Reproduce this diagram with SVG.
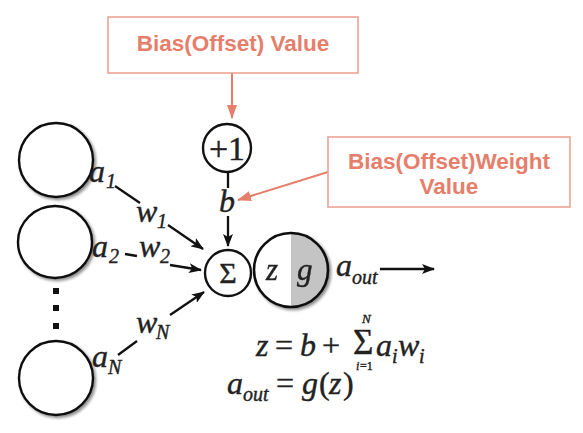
<svg xmlns="http://www.w3.org/2000/svg" width="583" height="433" viewBox="0 0 583 433">
<defs>
<style>
.nd{fill:#fff;stroke:#111;stroke-width:2.4}
.ln{stroke:#111;stroke-width:2.3;fill:none}
.m{font-family:"Liberation Serif",serif;font-style:italic;fill:#222;stroke:#222;stroke-width:0.4}
.u{font-family:"Liberation Serif",serif;fill:#222;stroke:#222;stroke-width:0.4}
.ob{fill:#fff;stroke:#EC9C8C;stroke-width:1.5}
.ot{font-family:"Liberation Sans",sans-serif;font-weight:bold;font-size:22.5px;fill:#E57E6A;text-anchor:middle}
.oa{stroke:#E57E6A;stroke-width:2;fill:none}
</style>
<marker id="ah" markerWidth="13" markerHeight="10" refX="12" refY="5" orient="auto" markerUnits="userSpaceOnUse"><path d="M0,0 L13,5 L0,10 L3,5 Z" fill="#111"/></marker>
<marker id="oh" markerWidth="14" markerHeight="10" refX="13" refY="5" orient="auto" markerUnits="userSpaceOnUse"><path d="M0,0 L14,5 L0,10 Z" fill="#E57E6A"/></marker>
<filter id="sh" x="-20%" y="-20%" width="150%" height="150%"><feGaussianBlur in="SourceAlpha" stdDeviation="1.5"/><feOffset dx="1.5" dy="2" result="b"/><feComponentTransfer><feFuncA type="linear" slope="0.45"/></feComponentTransfer><feMerge><feMergeNode/><feMergeNode in="SourceGraphic"/></feMerge></filter>
</defs>
<rect width="583" height="433" fill="#fff"/>

<g id="input1"><ellipse class="nd" cx="56" cy="160" rx="37" ry="37" filter="url(#sh)"/></g>
<g id="input2"><ellipse class="nd" cx="55" cy="242" rx="37" ry="36" filter="url(#sh)"/></g>
<g id="dots" fill="#111"><rect x="53" y="288" width="6" height="6"/><rect x="53" y="305" width="6" height="6"/><rect x="53" y="323" width="6" height="6"/></g>
<g id="inputN"><ellipse class="nd" cx="56" cy="378" rx="37" ry="37" filter="url(#sh)"/></g>

<g id="bias"><circle class="nd" cx="227" cy="148" r="24"/><text class="u" x="227" y="160" font-size="34" text-anchor="middle">+1</text></g>
<g id="sum"><circle class="nd" cx="228" cy="273" r="23"/><text class="u" x="228" y="283" font-size="30" text-anchor="middle">Σ</text></g>
<g id="activation" filter="url(#sh)">
<path d="M291,233 A37,37 0 0 1 291,307 Z" fill="#C4C4C4"/>
<path d="M291,233 A37,37 0 0 0 291,307 Z" fill="#fff"/>
<circle cx="291" cy="270" r="37" fill="none" stroke="#111" stroke-width="2.6"/>
<text class="m" x="266" y="280" font-size="31">z</text>
<text class="m" x="297" y="280" font-size="31">g</text>
</g>

<g id="connectors">
<line class="ln" x1="115" y1="186" x2="140" y2="203"/>
<line class="ln" x1="168" y1="225" x2="203" y2="249" marker-end="url(#ah)"/>
<line class="ln" x1="125" y1="254" x2="137" y2="256"/>
<line class="ln" x1="170" y1="265" x2="201" y2="270" marker-end="url(#ah)"/>
<line class="ln" x1="118" y1="355" x2="137" y2="341"/>
<line class="ln" x1="170" y1="315" x2="204" y2="292" marker-end="url(#ah)"/>
<line class="ln" x1="228" y1="172" x2="228" y2="188"/>
<line class="ln" x1="228" y1="216" x2="228" y2="246" marker-end="url(#ah)"/>
<line class="ln" x1="380" y1="269" x2="434" y2="269" marker-end="url(#ah)"/>
<line class="oa" x1="232" y1="73" x2="232" y2="118" marker-end="url(#oh)"/>
<line class="oa" x1="328" y1="172" x2="238" y2="200" marker-end="url(#oh)"/>
</g>

<g id="labels">
<text class="m" x="89" y="182" font-size="32">a</text><text class="m" x="106" y="188" font-size="20">1</text>
<text class="m" x="136" y="222" font-size="32">w</text><text class="m" x="157" y="228" font-size="20">1</text>
<text class="m" x="92" y="257" font-size="32">a</text><text class="m" x="109" y="263" font-size="20">2</text>
<text class="m" x="139" y="257" font-size="32">w</text><text class="m" x="160" y="263" font-size="20">2</text>
<text class="m" x="136" y="333" font-size="32">w</text><text class="m" x="156" y="339" font-size="20">N</text>
<text class="m" x="92" y="367" font-size="32">a</text><text class="m" x="108" y="374" font-size="20">N</text>
<text class="m" x="219" y="212" font-size="32">b</text>
<text class="m" x="336" y="276" font-size="32">a</text><text class="m" x="352" y="284" font-size="20">out</text>
</g>

<g id="equations">
<text class="m" x="256" y="356" font-size="32">z</text>
<text class="u" x="275" y="356" font-size="32">=</text>
<text class="m" x="300" y="356" font-size="32">b</text>
<text class="u" x="322" y="356" font-size="32">+</text>
<text class="u" x="353" y="354" font-size="35">Σ</text>
<text class="m" x="362" y="323" font-size="13">N</text>
<text class="m" x="356" y="370" font-size="12">i</text><text class="u" x="360" y="370" font-size="12">=1</text>
<text class="m" x="376" y="356" font-size="32">a</text><text class="m" x="392" y="363" font-size="20">i</text>
<text class="m" x="398" y="356" font-size="32">w</text><text class="m" x="419" y="363" font-size="20">i</text>
<text class="m" x="227" y="394" font-size="32">a</text><text class="m" x="243" y="401" font-size="20">out</text>
<text class="u" x="276" y="394" font-size="32">=</text>
<text class="m" x="302" y="394" font-size="32">g</text>
<text class="u" x="319" y="394" font-size="32">(</text>
<text class="m" x="329" y="394" font-size="32">z</text>
<text class="u" x="343" y="394" font-size="32">)</text>
</g>

<g id="note-bias-value"><rect class="ob" x="108" y="17" width="250" height="56"/><text class="ot" x="233" y="51">Bias(Offset) Value</text></g>
<g id="note-bias-weight"><rect class="ob" x="328" y="137" width="242" height="70"/><text class="ot" x="449" y="169">Bias(Offset)Weight</text><text class="ot" x="449" y="194">Value</text></g>
</svg>
